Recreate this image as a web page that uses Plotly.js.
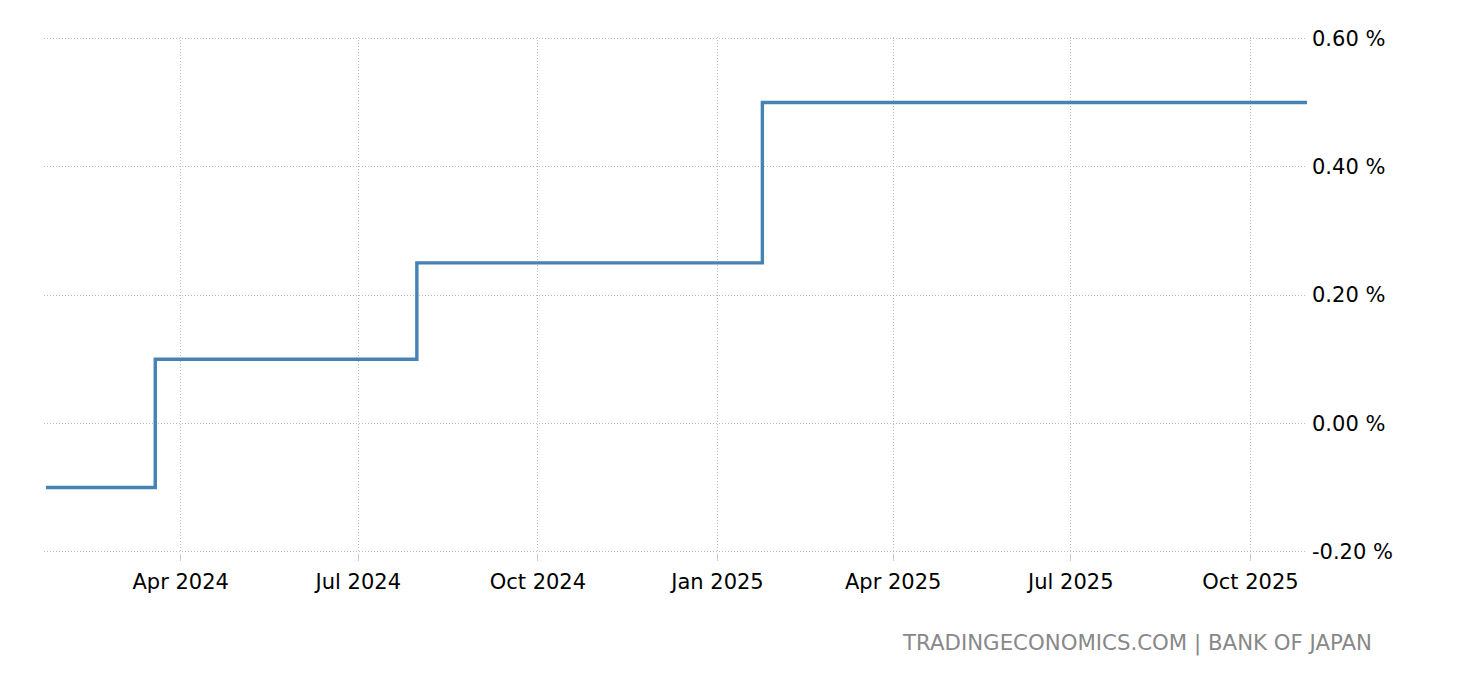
<!DOCTYPE html>
<html>
<head>
<meta charset="utf-8">
<script src="https://cdn.plot.ly/plotly-3.0.1.min.js"></script>
<style>html,body{margin:0;padding:0;background:#fff;}#chart{width:1460px;height:680px;}</style>
</head>
<body>
<div id="chart"></div>
<script>
const dates = ["2024-01-23","2024-03-19","2024-04-26","2024-06-14","2024-07-31","2024-09-20","2024-10-31","2024-12-19","2025-01-24","2025-03-19","2025-05-01","2025-06-17","2025-07-31","2025-09-19","2025-10-30"];
const rates = [-0.10, 0.10, 0.10, 0.10, 0.25, 0.25, 0.25, 0.25, 0.50, 0.50, 0.50, 0.50, 0.50, 0.50, 0.50];
const yTickVals = [-0.2, 0, 0.2, 0.4, 0.6];
const yTickText = ["-0.20 %", "0.00 %", "0.20 %", "0.40 %", "0.60 %"];
const sourceText = "TRADINGECONOMICS.COM | BANK OF JAPAN";

const trace = {
  x: dates, y: rates, type: "scatter", mode: "lines",
  line: {shape: "hv", color: "#4682b4", width: 3.4},
  hoverinfo: "x+y"
};
const font = {family: "DejaVu Sans, Verdana, sans-serif", size: 21, color: "#000"};
const layout = {
  width: 1460, height: 680,
  margin: {l: 44, r: 153, t: 37, b: 127},
  paper_bgcolor: "#fff", plot_bgcolor: "#fff",
  showlegend: false,
  font: font,
  xaxis: {
    type: "date",
    range: ["2024-01-22", "2025-10-30"],
    dtick: "M3", tick0: "2024-01-01", tickformat: "%b %Y",
    showgrid: true, gridcolor: "#bdbdbd", griddash: "1px,2px", gridwidth: 1,
    ticks: "outside", ticklen: 7, tickcolor: "#cccccc",
    ticklabelstandoff: 3,
    showline: false, zeroline: false,
    tickfont: font
  },
  yaxis: {
    side: "right", range: [-0.202, 0.602],
    tickmode: "array", tickvals: yTickVals, ticktext: yTickText,
    showgrid: true, gridcolor: "#bdbdbd", griddash: "1px,2px", gridwidth: 1,
    zeroline: false, showline: false, ticks: "",
    ticklabelstandoff: 4,
    tickfont: font
  },
  annotations: [{
    text: sourceText, xref: "paper", yref: "paper",
    x: 1.053, y: -0.175, xanchor: "right", yanchor: "middle",
    showarrow: false, font: {family: "DejaVu Sans, Verdana, sans-serif", size: 21.3, color: "#888"}
  }]
};
Plotly.newPlot("chart", [trace], layout, {displayModeBar: false, staticPlot: true});
</script>
</body>
</html>
